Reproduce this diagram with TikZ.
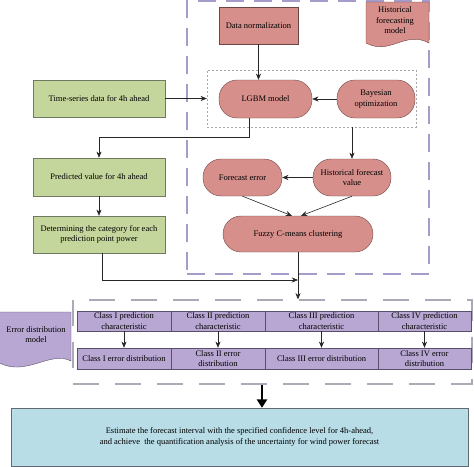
\documentclass[tikz,border=0pt]{standalone}
\usepackage{fontspec}
\setmainfont{Liberation Serif}
\usetikzlibrary{positioning,arrows.meta,calc}
\definecolor{LeafGreen}{RGB}{197,214,156}
\definecolor{LeafEdge}{RGB}{112,122,96}
\definecolor{RoseFill}{RGB}{214,143,139}
\definecolor{RoseEdge}{RGB}{110,70,70}
\definecolor{LilacFill}{RGB}{184,167,211}
\definecolor{LilacEdge}{RGB}{88,78,110}
\definecolor{SkyFill}{RGB}{184,221,231}
\definecolor{SkyEdge}{RGB}{96,106,112}
\definecolor{FrameLilac}{RGB}{166,156,204}
\definecolor{FrameGray}{RGB}{172,170,182}
\tikzset{
  flow/.style={-{Stealth[length=2.2mm,width=1.8mm]},semithick,draw=black!85},
  bigflow/.style={-{Triangle[length=3mm,width=3.6mm]},line width=2.4pt,draw=black},
  greenbox/.style={draw=LeafEdge,fill=LeafGreen,align=center,inner sep=0pt,
    font=\fontsize{8.5}{10.5}\selectfont},
  rosebox/.style={draw=RoseEdge,fill=RoseFill,align=center,inner sep=0pt,
    font=\fontsize{8.5}{10.5}\selectfont},
  rosepill/.style={rosebox,rounded corners=18pt},
  lilacbox/.style={draw=LilacEdge,fill=LilacFill,align=center,inner sep=0pt,
    font=\fontsize{8.5}{10.5}\selectfont},
  skybox/.style={draw=SkyEdge,fill=SkyFill,align=center,inner sep=0pt,
    font=\fontsize{8.5}{11.5}\selectfont},
  doctext/.style={align=center,inner sep=0pt,font=\fontsize{8.5}{10.5}\selectfont},
  histframe/.style={draw=FrameLilac,line width=2.4pt,dash pattern=on 18pt off 10pt},
  errframe/.style={draw=FrameGray,line width=1.4pt,dash pattern=on 26pt off 16pt},
  tunebox/.style={draw=black!35,thin,dash pattern=on 2pt off 2pt}
}

\begin{document}
\begin{tikzpicture}[x=1pt,y=-1pt]
  \useasboundingbox (0,0) rectangle (474,466);
  \node[histframe,minimum width=242,minimum height=273] (histbox) at (308,137.5) {};
  \fill[RoseFill,draw=RoseEdge] (366,2) -- (429,2) -- (429,43)
    .. controls (405,30) and (390,56) .. (366,43) -- cycle;
  \node[doctext] (histlabel) at (395,20.5) {Historical\\forecasting\\model};

  \node[rosebox,minimum width=79,minimum height=37] (datanorm) at (258.5,25.5) {Data normalization};
  \node[tunebox,minimum width=209,minimum height=57] (tuning) at (311.5,98.5) {};
  \node[rosepill,minimum width=93,minimum height=38] (lgbm) at (265.5,99) {LGBM model};
  \node[rosepill,minimum width=78,minimum height=38] (bayes) at (376,99) {Bayesian\\optimization};
  \node[rosepill,minimum width=79,minimum height=37] (ferr) at (242.5,177.5) {Forecast error};
  \node[rosepill,minimum width=78,minimum height=37] (histval) at (352,177.5) {Historical forecast\\value};
  \node[rosepill,minimum width=150,minimum height=36] (fcm) at (298,234) {Fuzzy C-means clustering};

  \node[greenbox,minimum width=132,minimum height=37] (series) at (99,98.5) {Time-series data for 4h ahead};
  \node[greenbox,minimum width=132,minimum height=38] (pred) at (99,177) {Predicted value for 4h ahead};
  \node[greenbox,minimum width=132,minimum height=37] (determ) at (99,234.5) {Determining the category for each\\prediction point power};

  \node[errframe,minimum width=399,minimum height=84] (errbox) at (272.5,342) {};
  \fill[LilacFill,draw=LilacEdge] (-2,312) -- (71,312) -- (71,361)
    .. controls (50,350) and (25,378) .. (-2,362) -- cycle;
  \node[doctext] (errlabel) at (36,334.5) {Error distribution\\model};

  \node[lilacbox,minimum width=94,minimum height=20] (pc1) at (124,321) {Class I prediction\\characteristic};
  \node[lilacbox,minimum width=94,minimum height=20] (pc2) at (218,321) {Class II prediction\\characteristic};
  \node[lilacbox,minimum width=113,minimum height=20] (pc3) at (321.5,321) {Class III prediction\\characteristic};
  \node[lilacbox,minimum width=93,minimum height=20] (pc4) at (424.5,321) {Class IV prediction\\characteristic};
  \node[lilacbox,minimum width=94,minimum height=21] (ed1) at (124,358.5) {Class I error distribution};
  \node[lilacbox,minimum width=94,minimum height=21] (ed2) at (218,358.5) {Class II error\\distribution};
  \node[lilacbox,minimum width=113,minimum height=21] (ed3) at (321.5,358.5) {Class III error distribution};
  \node[lilacbox,minimum width=93,minimum height=21] (ed4) at (424.5,358.5) {Class IV error\\distribution};

  \node[skybox,minimum width=457,minimum height=58] (final) at (239.5,437) {Estimate the forecast interval with the specified confidence level for 4h-ahead,\\
    and achieve\ \ the quantification analysis of the uncertainty for wind power forecast};

  \coordinate (join) at (fcm.south |- 0,280);
  \draw[flow] (datanorm) -- (datanorm |- lgbm.north);
  \draw[flow] (bayes) -- (lgbm);
  \draw[flow] (series) -- (tuning.west);
  \draw[flow] ([xshift=-16]lgbm.south) -- ++(0,19) -| (pred.north);
  \draw[flow] (pred) -- (determ);
  \draw[flow] (histval |- tuning.south) -- (histval.north);
  \draw[flow] (histval) -- (ferr);
  \draw[flow] (ferr.south) -- ([xshift=-6]fcm.north);
  \draw[flow] (histval.south) -- ([xshift=3]fcm.north);
  \draw[flow] ([xshift=3]determ.south) |- (join);
  \draw[flow] (fcm.south) -- (fcm.south |- errbox.north);
  \foreach \c in {1,...,4}
    \draw[flow] (pc\c) -- (ed\c);
  \draw[bigflow] ([xshift=-10.5]errbox.south) -- ([xshift=-10.5]errbox.south |- final.north);
\end{tikzpicture}
\end{document}
